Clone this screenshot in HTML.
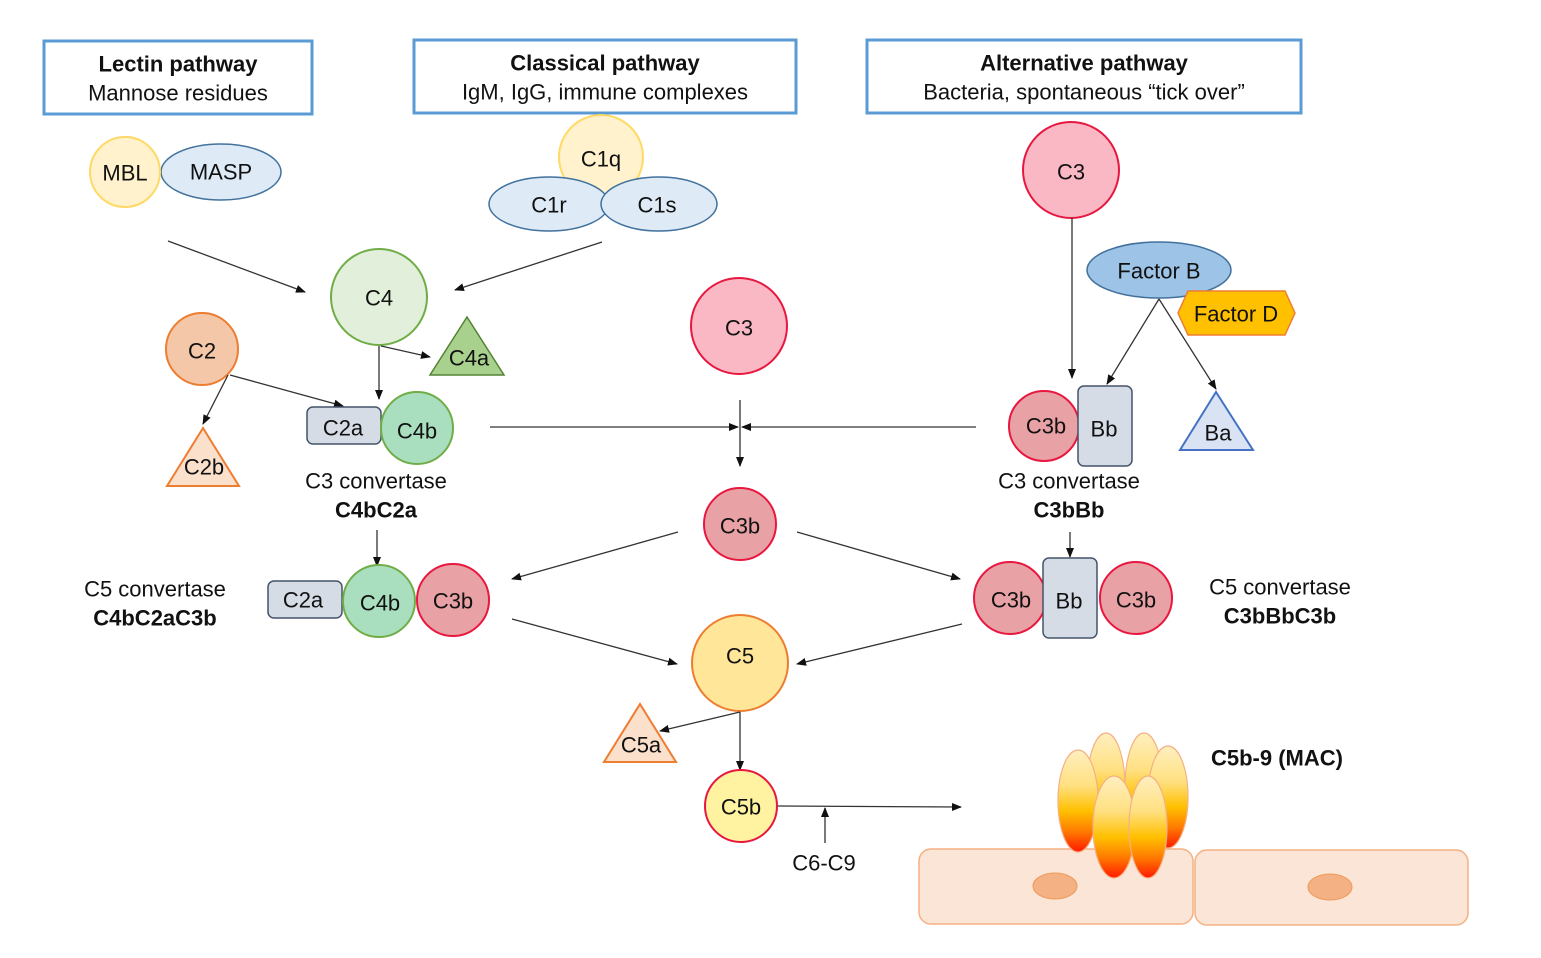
<!DOCTYPE html>
<html><head><meta charset="utf-8"><style>
html,body{margin:0;padding:0;background:#fff}
svg{display:block;font-family:"Liberation Sans",Arial,sans-serif}
text{font-size:22px;fill:#111;text-anchor:middle;dominant-baseline:central}
.b{font-weight:bold}
.ln{stroke:#333;stroke-width:1.3;fill:none}
</style></head><body>
<svg width="1541" height="958" viewBox="0 0 1541 958" xmlns="http://www.w3.org/2000/svg">
<defs>
<marker id="a" markerWidth="10" markerHeight="10" refX="9" refY="5" orient="auto" markerUnits="userSpaceOnUse"><path d="M0,1 L10,5 L0,9 z" fill="#111"/></marker>
<linearGradient id="g" x1="0" y1="0" x2="0" y2="1"><stop offset="0" stop-color="#ffefc0"/><stop offset="0.35" stop-color="#ffe080"/><stop offset="0.6" stop-color="#ffc000"/><stop offset="0.8" stop-color="#ff7a00"/><stop offset="1" stop-color="#ff1a00"/></linearGradient>
</defs>
<rect x="44" y="41" width="268" height="73" fill="#fff" stroke="#5b9bd5" stroke-width="3"/>
<text x="178" y="64" class="b">Lectin pathway</text><text x="178" y="93">Mannose residues</text>
<rect x="414" y="40" width="382" height="73" fill="#fff" stroke="#5b9bd5" stroke-width="3"/>
<text x="605" y="63" class="b">Classical pathway</text><text x="605" y="92">IgM, IgG, immune complexes</text>
<rect x="867" y="40" width="434" height="73" fill="#fff" stroke="#5b9bd5" stroke-width="3"/>
<text x="1084" y="63" class="b">Alternative pathway</text><text x="1084" y="92">Bacteria, spontaneous “tick over”</text>

<ellipse cx="221" cy="172" rx="60" ry="28" fill="#deebf7" stroke="#41719c" stroke-width="1.5"/>
<circle cx="125" cy="172" r="35" fill="#fff2cc" stroke="#ffd966" stroke-width="2"/>
<text x="125" y="173">MBL</text><text x="221" y="172">MASP</text>
<circle cx="601" cy="157" r="42" fill="#fff2cc" stroke="#ffd966" stroke-width="2"/>
<text x="601" y="159">C1q</text>
<ellipse cx="549" cy="204" rx="60" ry="27" fill="#deebf7" stroke="#41719c" stroke-width="1.5"/>
<ellipse cx="659" cy="204" rx="58" ry="27" fill="#deebf7" stroke="#41719c" stroke-width="1.5"/>
<text x="549" y="205">C1r</text><text x="657" y="205">C1s</text>

<line class="ln" x1="168" y1="241" x2="305" y2="292" marker-end="url(#a)"/>
<line class="ln" x1="602" y1="242" x2="455" y2="290" marker-end="url(#a)"/>

<circle cx="379" cy="297" r="48" fill="#e2efda" stroke="#70ad47" stroke-width="2"/>
<text x="379" y="298">C4</text>
<polygon points="467,317 504,375 430,375" fill="#a9d18e" stroke="#548235" stroke-width="1.5"/>
<text x="469" y="358">C4a</text>
<line class="ln" x1="381" y1="346" x2="430" y2="357" marker-end="url(#a)"/>
<line class="ln" x1="379" y1="346" x2="379" y2="399" marker-end="url(#a)"/>

<circle cx="202" cy="349" r="36" fill="#f4c7a8" stroke="#ed7d31" stroke-width="2"/>
<text x="202" y="351">C2</text>
<polygon points="203,428 239,486 167,486" fill="#fbe0cc" stroke="#ed7d31" stroke-width="2"/>
<text x="204" y="467">C2b</text>
<line class="ln" x1="228" y1="375" x2="203" y2="424" marker-end="url(#a)"/>
<line class="ln" x1="230" y1="375" x2="343" y2="406" marker-end="url(#a)"/>

<rect x="307" y="407" width="74" height="37" rx="6" fill="#d6dce5" stroke="#44546a" stroke-width="1.5"/>
<text x="343" y="428">C2a</text>
<circle cx="417" cy="428" r="36" fill="#a9dfbf" stroke="#70ad47" stroke-width="2"/>
<text x="417" y="431">C4b</text>
<text x="376" y="481">C3 convertase</text><text x="376" y="510" class="b">C4bC2a</text>

<circle cx="739" cy="326" r="48" fill="#f9b8c4" stroke="#e8173f" stroke-width="2"/>
<text x="739" y="328">C3</text>
<line class="ln" x1="490" y1="427" x2="738" y2="427" marker-end="url(#a)"/>
<line class="ln" x1="976" y1="427" x2="742" y2="427" marker-end="url(#a)"/>
<line class="ln" x1="740" y1="400" x2="740" y2="466" marker-end="url(#a)"/>
<circle cx="740" cy="524" r="36" fill="#e8a2a6" stroke="#e8173f" stroke-width="2"/>
<text x="740" y="526">C3b</text>
<line class="ln" x1="678" y1="532" x2="512" y2="579" marker-end="url(#a)"/>
<line class="ln" x1="797" y1="532" x2="960" y2="579" marker-end="url(#a)"/>

<text x="155" y="589">C5 convertase</text><text x="155" y="618" class="b">C4bC2aC3b</text>
<line class="ln" x1="377" y1="530" x2="377" y2="566" marker-end="url(#a)"/>
<rect x="268" y="581" width="74" height="37" rx="6" fill="#d6dce5" stroke="#44546a" stroke-width="1.5"/>
<text x="303" y="600">C2a</text>
<circle cx="379" cy="601" r="36" fill="#a9dfbf" stroke="#70ad47" stroke-width="2"/>
<text x="380" y="603">C4b</text>
<circle cx="453" cy="600" r="36" fill="#e8a2a6" stroke="#e8173f" stroke-width="2"/>
<text x="453" y="601">C3b</text>

<line class="ln" x1="512" y1="619" x2="677" y2="664" marker-end="url(#a)"/>
<line class="ln" x1="962" y1="624" x2="797" y2="664" marker-end="url(#a)"/>
<circle cx="740" cy="663" r="48" fill="#ffe699" stroke="#ed7d31" stroke-width="2"/>
<text x="740" y="656">C5</text>
<polygon points="640,704 676,762 604,762" fill="#fbe0cc" stroke="#ed7d31" stroke-width="2"/>
<text x="641" y="745">C5a</text>
<line class="ln" x1="740" y1="712" x2="660" y2="731" marker-end="url(#a)"/>
<line class="ln" x1="740" y1="712" x2="740" y2="770" marker-end="url(#a)"/>
<circle cx="741" cy="806" r="36" fill="#fff2a0" stroke="#e8173f" stroke-width="2"/>
<text x="741" y="807">C5b</text>
<line class="ln" x1="778" y1="806" x2="961" y2="807" marker-end="url(#a)"/>
<line class="ln" x1="825" y1="843" x2="825" y2="808" marker-end="url(#a)"/>
<text x="824" y="863">C6-C9</text>

<circle cx="1071" cy="170" r="48" fill="#f9b8c4" stroke="#e8173f" stroke-width="2"/>
<text x="1071" y="172">C3</text>
<line class="ln" x1="1072" y1="218" x2="1072" y2="378" marker-end="url(#a)"/>
<ellipse cx="1159" cy="270" rx="72" ry="28" fill="#9dc3e6" stroke="#41719c" stroke-width="1.5"/>
<text x="1159" y="271">Factor B</text>
<polygon points="1188,291 1285,291 1295,313 1285,335 1188,335 1178,313" fill="#ffc000" stroke="#ed7d31" stroke-width="1.5"/>
<text x="1236" y="314">Factor D</text>
<line class="ln" x1="1159" y1="299" x2="1107" y2="384" marker-end="url(#a)"/>
<line class="ln" x1="1159" y1="299" x2="1216" y2="389" marker-end="url(#a)"/>
<polygon points="1216,392 1253,450 1180,450" fill="#dae3f3" stroke="#4472c4" stroke-width="2"/>
<text x="1218" y="433">Ba</text>
<circle cx="1044" cy="426" r="35" fill="#e8a2a6" stroke="#e8173f" stroke-width="2"/>
<text x="1046" y="426">C3b</text>
<rect x="1078" y="386" width="54" height="80" rx="6" fill="#d6dce5" stroke="#44546a" stroke-width="1.5"/>
<text x="1104" y="429">Bb</text>
<text x="1069" y="481">C3 convertase</text><text x="1069" y="510" class="b">C3bBb</text>
<line class="ln" x1="1070" y1="532" x2="1070" y2="557" marker-end="url(#a)"/>
<circle cx="1010" cy="598" r="36" fill="#e8a2a6" stroke="#e8173f" stroke-width="2"/>
<circle cx="1136" cy="598" r="36" fill="#e8a2a6" stroke="#e8173f" stroke-width="2"/>
<rect x="1043" y="558" width="54" height="80" rx="6" fill="#d6dce5" stroke="#44546a" stroke-width="1.5"/>
<text x="1011" y="600">C3b</text><text x="1069" y="601">Bb</text><text x="1136" y="600">C3b</text>
<text x="1280" y="587">C5 convertase</text><text x="1280" y="616" class="b">C3bBbC3b</text>

<rect x="919" y="849" width="274" height="75" rx="12" fill="#fbe5d6" stroke="#f4b183" stroke-width="1.5"/>
<rect x="1195" y="850" width="273" height="75" rx="12" fill="#fbe5d6" stroke="#f4b183" stroke-width="1.5"/>
<ellipse cx="1055" cy="886" rx="22" ry="13" fill="#f4b183" stroke="#ed9a5a" stroke-width="1"/>
<ellipse cx="1330" cy="887" rx="22" ry="13" fill="#f4b183" stroke="#ed9a5a" stroke-width="1"/>
<g stroke="#f4b183" stroke-width="1.2" fill="url(#g)">
<ellipse cx="1106" cy="787" rx="19" ry="54"/>
<ellipse cx="1144" cy="787" rx="19" ry="54"/>
<ellipse cx="1078" cy="801" rx="20" ry="51"/>
<ellipse cx="1168" cy="797" rx="20" ry="51"/>
<ellipse cx="1114" cy="827" rx="21" ry="51"/>
<ellipse cx="1148" cy="827" rx="19" ry="51"/>
</g>
<text x="1277" y="758" class="b">C5b-9 (MAC)</text>
</svg>
</body></html>
